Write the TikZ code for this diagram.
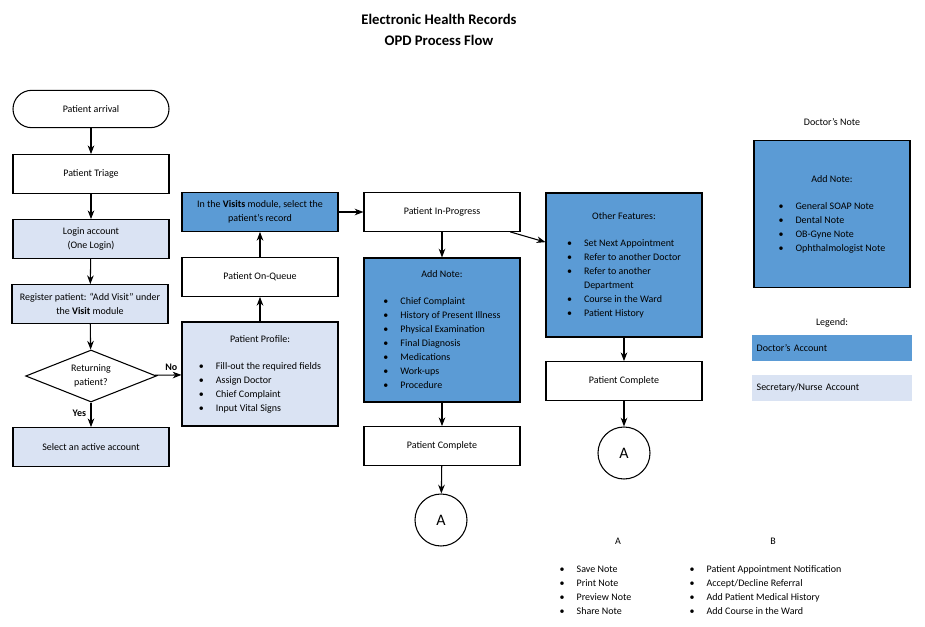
\documentclass[tikz,border=0pt]{standalone}
\usepackage{fontspec}
\setmainfont{Carlito}
\usepackage{xcolor}
\usetikzlibrary{arrows.meta, shapes.geometric, positioning}
\definecolor{docblue}{HTML}{5B9BD5}
\definecolor{nurseblue}{HTML}{DAE3F3}
\newcommand{\itm}{\textbullet\hspace{1.2em}}

\begin{document}
\begin{tikzpicture}[
x=0.75pt, y=-0.75pt,
>=Stealth,
font=\fontsize{7.5}{10.5}\selectfont,
box/.style={rectangle, draw, thick, minimum width=117pt, minimum height=29pt, align=center, inner sep=1pt},
docbox/.style={box, fill=docblue},
nursebox/.style={box, fill=nurseblue},
startstop/.style={rectangle, rounded corners=14pt, draw, thick, minimum width=117pt, minimum height=28pt},
decision/.style={diamond, draw, thick, aspect=2.5, minimum width=98pt, minimum height=39pt, inner sep=0pt, align=center},
connector/.style={circle, draw, thick, minimum size=39pt, font=\fontsize{12}{14}\selectfont},
arrow/.style={->, thick}
]
\useasboundingbox (0,0) rectangle (925,626);

% title
\node[font=\bfseries\fontsize{11}{16}\selectfont, align=center] (title) at (439,30) {Electronic Health Records\\OPD Process Flow};

% left column
\node[startstop] (arrival) at (91,109) {Patient arrival};
\node[box] (triage) at (91,174) {Patient Triage};
\node[nursebox] (login) at (91,239) {Login account\\(One Login)};
\node[nursebox] (register) at (90,304) {Register patient: ``Add Visit'' under\\the \textbf{Visit} module};
\node[decision] (returning) at (91,376) {Returning\\patient?};
\node[nursebox] (select) at (91,447) {Select an active account};

% second column
\node[nursebox, minimum height=78pt] (profile) at (260,374) {\begin{tabular}{@{}l@{}}
\multicolumn{1}{c}{Patient Profile:}\\[10pt]
\itm Fill-out the required fields\\
\itm Assign Doctor\\
\itm Chief Complaint\\
\itm Input Vital Signs
\end{tabular}};
\node[box] (onqueue) at (260,277) {Patient On-Queue};
\node[docbox] (visits) at (260,212) {In the \textbf{Visits} module, select the\\patient's record};

% third column
\node[box] (inprogress) at (442,212) {Patient In-Progress};
\node[docbox, minimum height=108pt] (addnote) at (442,330) {\begin{tabular}{@{}l@{}}
\multicolumn{1}{c}{Add Note:}\\[10pt]
\itm Chief Complaint\\
\itm History of Present Illness\\
\itm Physical Examination\\
\itm Final Diagnosis\\
\itm Medications\\
\itm Work-ups\\
\itm Procedure
\end{tabular}};
\node[box] (complete) at (442,446) {Patient Complete};
\node[connector] (circleA) at (441,520) {A};

% fourth column
\node[docbox, minimum height=108pt] (other) at (624,265) {\begin{tabular}{@{}l@{}}
\multicolumn{1}{c}{Other Features:}\\[10pt]
\itm Set Next Appointment\\
\itm Refer to another Doctor\\
\itm Refer to another\\
\phantom{\itm}Department\\
\itm Course in the Ward\\
\itm Patient History
\end{tabular}};
\node[box] (completeB) at (624,381) {Patient Complete};
\node[connector] (circleB) at (624,453) {A};

% doctor's note and legend
\node (docnotetitle) at (832,122) {Doctor's Note};
\node[docbox, minimum height=110pt] (docnote) at (832,214) {\begin{tabular}{@{}l@{}}
\multicolumn{1}{c}{Add Note:}\\[10pt]
\itm General SOAP Note\\
\itm Dental Note\\
\itm OB-Gyne Note\\
\itm Ophthalmologist Note
\end{tabular}};
\node (legend) at (832,323) {Legend:};
\node[rectangle, fill=docblue, minimum width=117pt, minimum height=19pt, text width=113pt, align=left] (legdoc) at (832,348) {Doctor's Account};
\node[rectangle, fill=nurseblue, minimum width=117pt, minimum height=19pt, text width=113pt, align=left] (legnurse) at (832,388) {Secretary/Nurse Account};

% footnotes
\node (listA) at (618,541) {A};
\node (listB) at (773,541) {B};
\node[align=left, anchor=north west] (itemsA) at (555,561) {\itm Save Note\\ \itm Print Note\\ \itm Preview Note\\ \itm Share Note};
\node[align=left, anchor=north west] (itemsB) at (685,561) {\itm Patient Appointment Notification\\ \itm Accept/Decline Referral\\ \itm Add Patient Medical History\\ \itm Add Course in the Ward};

% arrows
\draw[arrow] (arrival) -- (triage);
\draw[arrow] (triage) -- (login);
\draw[arrow] (login) -- (register);
\draw[arrow] (register) -- (returning);
\draw[arrow] (returning) -- node[left, pos=0.45, font=\bfseries\fontsize{7.5}{9}\selectfont] {Yes} (select);
\draw[arrow] (returning) -- node[above right, pos=0.2, font=\bfseries\fontsize{7.5}{9}\selectfont] {No} (profile);
\draw[arrow] (profile) -- (onqueue);
\draw[arrow] (onqueue) -- (visits);
\draw[arrow] (visits) -- (inprogress);
\draw[arrow] (inprogress) -- (addnote);
\draw[arrow] (addnote) -- (complete);
\draw[arrow] (complete) -- (circleA);
\draw[arrow] (inprogress) -- (other);
\draw[arrow] (other) -- (completeB);
\draw[arrow] (completeB) -- (circleB);

\end{tikzpicture}
\end{document}
